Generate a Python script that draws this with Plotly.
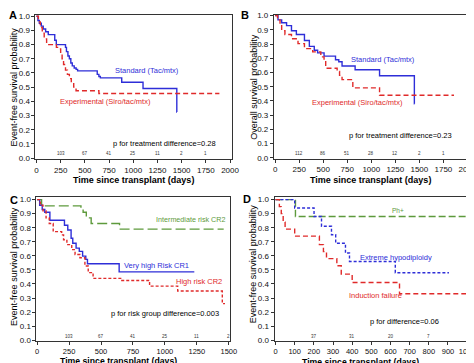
import plotly.graph_objects as go

# ---------------- data ----------------
# Panel A: event-free survival by treatment arm
a_std_t = [0, 15, 30, 50, 70, 95, 122, 189, 205, 300, 310, 325, 340, 355, 370, 390, 410, 425, 628, 645, 660, 881, 1101, 1450, 1452]
a_std_s = [1.0, 0.97, 0.95, 0.93, 0.91, 0.89, 0.87, 0.83, 0.80, 0.78, 0.75, 0.72, 0.70, 0.67, 0.65, 0.635, 0.625, 0.615, 0.59, 0.575, 0.565, 0.534, 0.49, 0.325, 0.325]
a_exp_t = [0, 20, 40, 60, 80, 105, 206, 233, 250, 265, 280, 300, 320, 340, 360, 385, 409, 645, 1890]
a_exp_s = [1.0, 0.96, 0.92, 0.88, 0.84, 0.80, 0.78, 0.77, 0.74, 0.70, 0.66, 0.62, 0.59, 0.56, 0.53, 0.50, 0.475, 0.455, 0.455]
a_risk = ["103", "67", "41", "25", "11", "2", "1"]

# Panel B: overall survival by treatment arm
b_std_t = [0, 30, 68, 119, 170, 221, 305, 356, 407, 442, 509, 628, 662, 696, 832, 1086, 1448, 1450]
b_std_s = [1.0, 0.97, 0.95, 0.93, 0.894, 0.867, 0.825, 0.784, 0.757, 0.738, 0.715, 0.69, 0.676, 0.646, 0.619, 0.577, 0.38, 0.38]
b_exp_t = [0, 25, 51, 68, 102, 170, 238, 305, 391, 475, 509, 526, 645, 670, 696, 808, 1086, 1860]
b_exp_s = [1.0, 0.97, 0.94, 0.894, 0.867, 0.837, 0.803, 0.768, 0.745, 0.71, 0.688, 0.63, 0.607, 0.58, 0.55, 0.492, 0.44, 0.44]
b_risk = ["112", "86", "51", "28", "12", "2", "1"]

# Panel C: event-free survival by risk group
c_int_t = [0, 35, 343, 360, 385, 423, 645, 1460]
c_int_s = [1.0, 0.955, 0.93, 0.91, 0.87, 0.83, 0.79, 0.79]
c_vh_t = [0, 20, 40, 60, 100, 214, 240, 266, 279, 305, 330, 356, 381, 394, 642, 1230]
c_vh_s = [1.0, 0.96, 0.93, 0.91, 0.853, 0.818, 0.784, 0.725, 0.69, 0.655, 0.632, 0.598, 0.575, 0.544, 0.486, 0.486]
c_hr_t = [0, 25, 46, 70, 95, 126, 192, 207, 233, 271, 297, 335, 374, 400, 438, 663, 880, 1100, 1449, 1470]
c_hr_s = [1.0, 0.96, 0.92, 0.87, 0.83, 0.772, 0.749, 0.714, 0.68, 0.644, 0.61, 0.586, 0.528, 0.481, 0.44, 0.425, 0.385, 0.35, 0.26, 0.26]
c_risk = ["103", "67", "41", "25", "11", "2"]

# Panel D: event-free survival by subgroup
d_ph_t = [0, 104, 1000]
d_ph_s = [1.0, 0.88, 0.88]
d_hypo_t = [0, 100, 201, 240, 292, 314, 365, 386, 625, 905]
d_hypo_s = [1.0, 0.94, 0.88, 0.81, 0.75, 0.69, 0.62, 0.56, 0.48, 0.48]
d_ind_t = [0, 20, 30, 40, 50, 100, 229, 250, 266, 320, 343, 400, 647, 1000]
d_ind_s = [1.0, 0.95, 0.90, 0.84, 0.79, 0.74, 0.68, 0.63, 0.58, 0.53, 0.47, 0.41, 0.33, 0.33]
d_risk = ["37", "31", "20", "7", "4"]

ab_risk_x = [250, 500, 750, 1000, 1250, 1500, 1750]
c_risk_x = [250, 500, 750, 1000, 1250, 1500]
d_risk_x = [200, 400, 600, 800, 1000]

# ---------------- style ----------------
FONT = "Arial, Liberation Sans, sans-serif"
BLUE = "#2e2ed8"
RED = "#e02a2a"
GREEN = "#5e9a3c"
FRAME = "#333333"
W, H = 474, 363

fig = go.Figure()

def add_curve(t, s, color, dash, ax, width=1.4):
    fig.add_trace(go.Scatter(x=t, y=s, mode="lines", line=dict(color=color, dash=dash, width=width, shape="hv"),
                             xaxis="x" + ax, yaxis="y" + ax, showlegend=False, hoverinfo="skip"))

add_curve(a_std_t, a_std_s, BLUE, "solid", "")
add_curve(a_exp_t, a_exp_s, RED, "5px,3px", "")
add_curve(b_std_t, b_std_s, BLUE, "solid", "2")
add_curve(b_exp_t, b_exp_s, RED, "5px,3px", "2")
add_curve(c_int_t, c_int_s, GREEN, "10px,4px", "3")
add_curve(c_vh_t, c_vh_s, BLUE, "solid", "3")
add_curve(c_hr_t, c_hr_s, RED, "3px,2px", "3")
add_curve(d_ph_t, d_ph_s, GREEN, "7px,3px", "4")
add_curve(d_hypo_t, d_hypo_s, BLUE, "3px,2px", "4")
add_curve(d_ind_t, d_ind_s, RED, "5px,3px", "4")

def px_dom(a, b, total):
    return [a / total, b / total]

def ydom(top, bottom):
    return [1 - bottom / H, 1 - top / H]

def axstyle(size=8):
    return dict(showline=True, mirror=True, linecolor=FRAME, linewidth=1, ticks="outside", ticklen=3,
                tickcolor=FRAME, showgrid=False, zeroline=False, tickfont=dict(size=size, color="#111", family=FONT))

yticks = [i / 10 for i in range(11)]
ytext = ["%.1f" % v for v in yticks]

fig.update_layout(
    width=W, height=H, margin=dict(l=0, r=0, t=0, b=0),
    paper_bgcolor="white", plot_bgcolor="white", font=dict(family=FONT),
    xaxis=dict(domain=px_dom(27, 227, W), range=[-10, 2017], tickvals=list(range(0, 2001, 250)), anchor="y", **axstyle()),
    yaxis=dict(domain=ydom(4, 151), range=[-0.007, 1.009], tickvals=yticks, ticktext=ytext, anchor="x", **axstyle()),
    xaxis2=dict(domain=px_dom(270, 468, W), range=[-13, 2007], tickvals=list(range(0, 2001, 250)), anchor="y2", **axstyle()),
    yaxis2=dict(domain=ydom(4, 150.5), range=[-0.0055, 1.005], tickvals=yticks, ticktext=ytext, anchor="x2", **axstyle()),
    xaxis3=dict(domain=px_dom(28, 225.5, W), range=[-5, 1511], tickvals=list(range(0, 1501, 250)), anchor="y3", **axstyle(7.5)),
    yaxis3=dict(domain=ydom(190, 336.7), range=[-0.007, 1.016], tickvals=yticks, ticktext=ytext, anchor="x3", **axstyle()),
    xaxis4=dict(domain=px_dom(270.7, 468, W), range=[-5, 1005], tickvals=list(range(0, 1001, 100)), anchor="y4", **axstyle(7.5)),
    yaxis4=dict(domain=ydom(190, 336.7), range=[-0.007, 1.016], tickvals=yticks, ticktext=ytext, anchor="x4", **axstyle()),
)

ann = []

def text(x, y, s, color="black", size=7.5, xref="paper", yref="paper", xanchor="center", yanchor="middle", angle=0, bold=False):
    if xref == "paper":
        x = x / W
    if yref == "paper":
        y = 1 - y / H
    ann.append(dict(x=x, y=y, xref=xref, yref=yref, text=("<b>%s</b>" % s) if bold else s, showarrow=False,
                    xanchor=xanchor, yanchor=yanchor, textangle=angle,
                    font=dict(family=FONT, size=size, color=color)))

# panel letters
text(4, 4, "A", size=11, bold=True)
text(241, 4, "B", size=11, bold=True)
text(5, 193, "C", size=11, bold=True)
text(243, 192, "D", size=11, bold=True)

# axis titles
text(5, 77, "Event-free survival probability", size=9, angle=-90)
text(249, 77, "Overall survival probability", size=9, angle=-90)
text(5, 260, "Event-free survival probability", size=9, angle=-90)
text(249, 258, "Event-free survival probability", size=9, angle=-90)
xt = "Time since transplant (days)"
text(127, 172, xt, size=9, bold=True)
text(369, 172, xt, size=9, bold=True)
text(112, 357.3, xt, size=8.7, bold=True)
text(358, 357.5, xt, size=8.7, bold=True)

# curve labels
text(790, 0.62, "Standard (Tac/mtx)", BLUE, xref="x", yref="y", xanchor="left")
text(223, 0.40, "Experimental (Siro/tac/mtx)", RED, xref="x", yref="y", xanchor="left")
text(773, 0.69, "Standard (Tac/mtx)", BLUE, xref="x2", yref="y2", xanchor="left")
text(363, 0.39, "Experimental (Siro/tac/mtx)", RED, xref="x2", yref="y2", xanchor="left")
text(915, 0.86, "Intermediate risk CR2", GREEN, xref="x3", yref="y3", xanchor="left", size=7.2)
text(663, 0.53, "Very high Risk CR1", BLUE, xref="x3", yref="y3", xanchor="left")
text(1075, 0.42, "High risk CR2", RED, xref="x3", yref="y3", xanchor="left")
text(640, 0.92, "Ph+", GREEN, xref="x4", yref="y4", size=6.5)
text(432, 0.59, "Extreme hypodiploidy", BLUE, xref="x4", yref="y4", xanchor="left")
text(372, 0.32, "Induction failure", RED, xref="x4", yref="y4", xanchor="left")

# p values
text(1880, 0.10, "p for treatment difference=0.28", xref="x", yref="y", xanchor="right")
text(1860, 0.155, "p for treatment difference=0.23", xref="x2", yref="y2", xanchor="right")
text(1438, 0.19, "p for risk group difference=0.003", xref="x3", yref="y3", xanchor="right")
text(863, 0.135, "p for difference=0.06", xref="x4", yref="y4", xanchor="right")

# numbers at risk
for xs, labels, ax in [(ab_risk_x, a_risk, ""), (ab_risk_x, b_risk, "2"), (c_risk_x, c_risk, "3"), (d_risk_x, d_risk, "4")]:
    for xv, lab in zip(xs, labels):
        text(xv, 0.03, lab, "#333", size=4.5, xref="x" + ax, yref="y" + ax)

fig.update_layout(annotations=ann)
fig.write_html("out.html")
